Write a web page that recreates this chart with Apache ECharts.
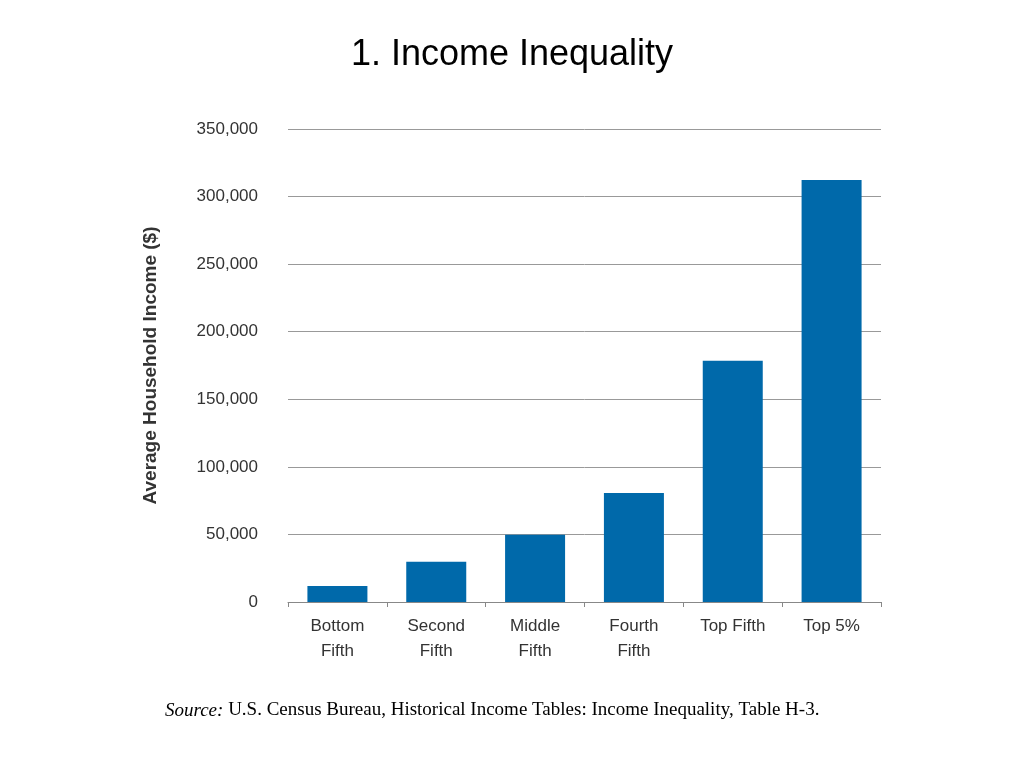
<!DOCTYPE html>
<html><head><meta charset="utf-8">
<script src="https://cdn.jsdelivr.net/npm/echarts@6/dist/echarts.min.js"></script>
<style>html,body{margin:0;padding:0;background:#fff}#c{width:1024px;height:768px}</style>
</head><body><div id="c"></div>
<script>
const categories = ['Bottom\nFifth','Second\nFifth','Middle\nFifth','Fourth\nFifth','Top Fifth','Top 5%'];
const values = [11900, 29800, 49800, 80600, 178600, 312200];
const yTicks = [0, 50000, 100000, 150000, 200000, 250000, 300000, 350000];
const chart = echarts.init(document.getElementById('c'));
chart.setOption({
  animation:false,
  title:[{text:'1. Income Inequality',left:'center',top:32,textStyle:{fontFamily:'Liberation Sans',fontSize:36,fontWeight:'normal',color:'#000'}},
         {text:'{i|Source:} U.S. Census Bureau, Historical Income Tables: Income Inequality, Table H-3.',left:160,top:696,
          textStyle:{fontFamily:'Liberation Serif',fontSize:19,fontWeight:'normal',color:'#000',rich:{i:{fontFamily:'Liberation Serif',fontStyle:'italic',fontSize:19}}}}],
  grid:{left:288,right:143,top:129,bottom:166},
  xAxis:{type:'category',data:categories,
    axisLine:{lineStyle:{color:'#888'}},axisTick:{show:true,length:5,lineStyle:{color:'#888'}},
    axisLabel:{fontFamily:'Liberation Sans',fontSize:17,color:'#333',lineHeight:25,margin:12}},
  yAxis:{type:'value',min:0,max:350000,interval:50000,
    name:'Average Household Income ($)',nameLocation:'middle',nameGap:128,
    nameTextStyle:{fontFamily:'Liberation Sans',fontSize:19,fontWeight:'bold',color:'#333'},
    axisLine:{show:false},axisTick:{show:false},
    splitLine:{lineStyle:{color:'#999'}},
    axisLabel:{fontFamily:'Liberation Sans',fontSize:17,color:'#333',margin:30,
      formatter:v=>yTicks.includes(v)?v.toLocaleString('en-US'):''}},
  series:[{type:'bar',data:values,barWidth:60,itemStyle:{color:'#0069AA'}}]
});
</script></body></html>
